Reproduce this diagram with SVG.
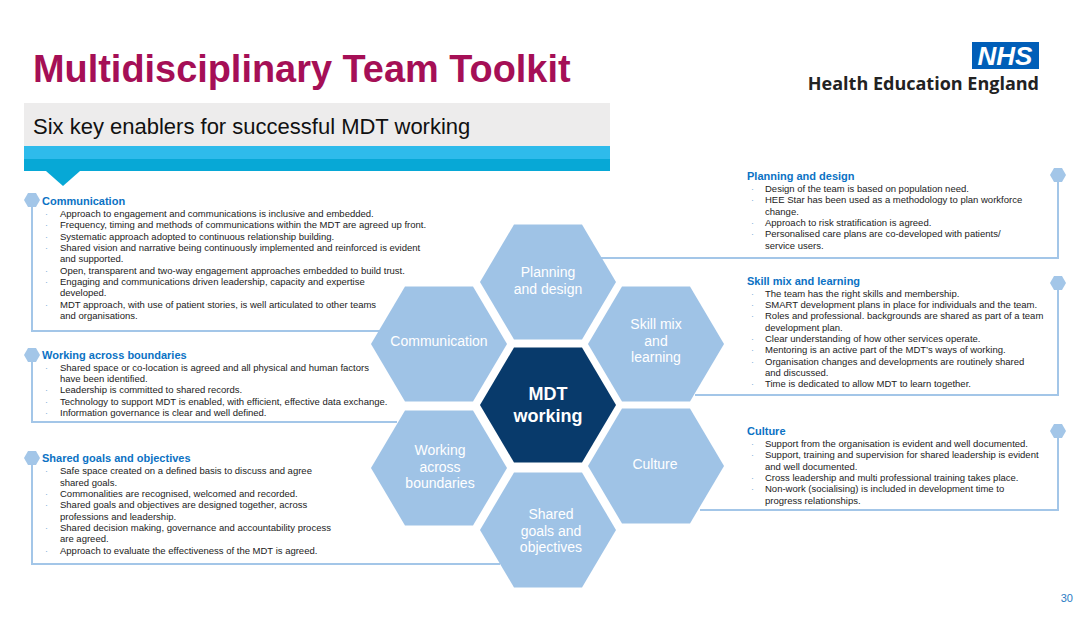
<svg xmlns="http://www.w3.org/2000/svg" width="1091" height="617" viewBox="0 0 1091 617">
<style>
.t{font-family:"Liberation Sans",Arial,sans-serif;font-size:9.5px;fill:#222}
.b{font-family:"Liberation Sans",Arial,sans-serif;font-size:9px;fill:#7fb0d8}
.h{font-family:"Liberation Sans",Arial,sans-serif;font-size:11px;font-weight:bold;fill:#0b72c4}
.hx{fill:#9fc3e6}
.hl{font-family:"Liberation Sans",Arial,sans-serif;font-size:14px;fill:#fff;text-anchor:middle}
.mdt{font-family:"Liberation Sans",Arial,sans-serif;font-size:18px;font-weight:bold;fill:#fff;text-anchor:middle}
.ln{fill:none;stroke:#a3c6e8;stroke-width:2}
.sh{fill:#a3c6e8}
</style>
<defs>
<polygon id="big" points="-68,0 -34,-57.5 34,-57.5 68,0 34,57.5 -34,57.5"/>
<polygon id="sm" points="-8,0 -4,-7 4,-7 8,0 4,7 -4,7"/>
</defs>
<rect width="1091" height="617" fill="#fff"/>
<text x="33" y="82" font-family="Liberation Sans,Arial,sans-serif" font-size="37.9" font-weight="bold" fill="#a50f56">Multidisciplinary Team Toolkit</text>
<rect x="972" y="42" width="67" height="27" fill="#005eb8"/>
<text x="1005" y="65" text-anchor="middle" font-family="Liberation Sans,Arial,sans-serif" font-size="26" font-weight="bold" font-style="italic" fill="#fff">NHS</text>
<text x="1039" y="90" text-anchor="end" font-family="Open Sans,Liberation Sans,sans-serif" font-size="18" font-weight="bold" fill="#222">Health Education England</text>
<rect x="24" y="103" width="586" height="43" fill="#edecec"/>
<text x="33" y="134" font-family="Liberation Sans,Arial,sans-serif" font-size="22" fill="#111">Six key enablers for successful MDT working</text>
<rect x="24" y="146" width="586" height="13" fill="#2ebbeb"/>
<rect x="24" y="159" width="586" height="12" fill="#07a8d6"/>
<polygon points="46,171 80,171 63,186" fill="#07a8d6"/>
<g id="connectors">
<polyline class="ln" points="32,200 32,331 380,331"/>
<polyline class="ln" points="32,355 32,422 397,422"/>
<polyline class="ln" points="32,458 32,564 500,564"/>
<polyline class="ln" points="1058,175 1058,258 600,258"/>
<polyline class="ln" points="1058,283 1058,395 695,395"/>
<polyline class="ln" points="1058,431 1058,510 700,510"/>
<use href="#sm" class="sh" x="32" y="200"/>
<use href="#sm" class="sh" x="32" y="355"/>
<use href="#sm" class="sh" x="32" y="458"/>
<use href="#sm" class="sh" x="1058" y="175"/>
<use href="#sm" class="sh" x="1058" y="283"/>
<use href="#sm" class="sh" x="1058" y="431"/>
</g>
<g id="hex-planning"><use href="#big" class="hx" x="548" y="282"/><text class="hl" x="548" y="277">Planning</text><text class="hl" x="548" y="294">and design</text></g>
<g id="hex-communication"><use href="#big" class="hx" x="439" y="344"/><text class="hl" x="439" y="346">Communication</text></g>
<g id="hex-skill"><use href="#big" class="hx" x="656" y="344"/><text class="hl" x="656" y="329">Skill mix</text><text class="hl" x="656" y="346">and</text><text class="hl" x="656" y="362">learning</text></g>
<g id="hex-mdt"><use href="#big" fill="#083a6b" x="548" y="405"/><text class="mdt" x="548" y="400">MDT</text><text class="mdt" x="548" y="422">working</text></g>
<g id="hex-working"><use href="#big" class="hx" x="439" y="468"/><text class="hl" x="440" y="455">Working</text><text class="hl" x="440" y="472">across</text><text class="hl" x="440" y="488">boundaries</text></g>
<g id="hex-culture"><use href="#big" class="hx" x="656" y="466"/><text class="hl" x="655" y="469">Culture</text></g>
<g id="hex-shared"><use href="#big" class="hx" x="548" y="530"/><text class="hl" x="551" y="519">Shared</text><text class="hl" x="551" y="536">goals and</text><text class="hl" x="551" y="552">objectives</text></g>

<g id="box-communication">
<text class="h" x="42" y="205">Communication</text>
<g class="b"><text x="45" y="217">·</text><text x="45" y="228">·</text><text x="45" y="240">·</text><text x="45" y="251">·</text><text x="45" y="274">·</text><text x="45" y="285">·</text><text x="45" y="308">·</text></g>
<text class="t" x="60" y="217">Approach to engagement and communications is inclusive and embedded.</text>
<text class="t" x="60" y="228">Frequency, timing and methods of communications within the MDT are agreed up front.</text>
<text class="t" x="60" y="240">Systematic approach adopted to continuous relationship building.</text>
<text class="t" x="60" y="251">Shared vision and narrative being continuously implemented and reinforced is evident</text>
<text class="t" x="60" y="262">and supported.</text>
<text class="t" x="60" y="274">Open, transparent and two-way engagement approaches embedded to build trust.</text>
<text class="t" x="60" y="285">Engaging and communications driven leadership, capacity and expertise</text>
<text class="t" x="60" y="296">developed.</text>
<text class="t" x="60" y="308">MDT approach, with use of patient stories, is well articulated to other teams</text>
<text class="t" x="60" y="319">and organisations.</text>
</g>
<g id="box-working">
<text class="h" x="42" y="359">Working across boundaries</text>
<g class="b"><text x="45" y="371">·</text><text x="45" y="393">·</text><text x="45" y="405">·</text><text x="45" y="416">·</text></g>
<text class="t" x="60" y="371">Shared space or co-location is agreed and all physical and human factors</text>
<text class="t" x="60" y="382">have been identified.</text>
<text class="t" x="60" y="393">Leadership is committed to shared records.</text>
<text class="t" x="60" y="405">Technology to support MDT is enabled, with efficient, effective data exchange.</text>
<text class="t" x="60" y="416">Information governance is clear and well defined.</text>
</g>
<g id="box-shared">
<text class="h" x="42" y="462">Shared goals and objectives</text>
<g class="b"><text x="45" y="474">·</text><text x="45" y="497">·</text><text x="45" y="508">·</text><text x="45" y="531">·</text><text x="45" y="554">·</text></g>
<text class="t" x="60" y="474">Safe space created on a defined basis to discuss and agree</text>
<text class="t" x="60" y="486">shared goals.</text>
<text class="t" x="60" y="497">Commonalities are recognised, welcomed and recorded.</text>
<text class="t" x="60" y="508">Shared goals and objectives are designed together, across</text>
<text class="t" x="60" y="520">professions and leadership.</text>
<text class="t" x="60" y="531">Shared decision making, governance and accountability process</text>
<text class="t" x="60" y="542">are agreed.</text>
<text class="t" x="60" y="554">Approach to evaluate the effectiveness of the MDT is agreed.</text>
</g>
<g id="box-planning">
<text class="h" x="747" y="180">Planning and design</text>
<g class="b"><text x="751" y="192">·</text><text x="751" y="203">·</text><text x="751" y="226">·</text><text x="751" y="237">·</text></g>
<text class="t" x="765" y="192">Design of the team is based on population need.</text>
<text class="t" x="765" y="203">HEE Star has been used as a methodology to plan workforce</text>
<text class="t" x="765" y="215">change.</text>
<text class="t" x="765" y="226">Approach to risk stratification is agreed.</text>
<text class="t" x="765" y="237">Personalised care plans are co-developed with patients/</text>
<text class="t" x="765" y="249">service users.</text>
</g>
<g id="box-skill">
<text class="h" x="747" y="285">Skill mix and learning</text>
<g class="b"><text x="751" y="297">·</text><text x="751" y="308">·</text><text x="751" y="319">·</text><text x="751" y="342">·</text><text x="751" y="353">·</text><text x="751" y="365">·</text><text x="751" y="387">·</text></g>
<text class="t" x="765" y="297">The team has the right skills and membership.</text>
<text class="t" x="765" y="308">SMART development plans in place for individuals and the team.</text>
<text class="t" x="765" y="319">Roles and professional. backgrounds are shared as part of a team</text>
<text class="t" x="765" y="331">development plan.</text>
<text class="t" x="765" y="342">Clear understanding of how other services operate.</text>
<text class="t" x="765" y="353">Mentoring is an active part of the MDT’s ways of working.</text>
<text class="t" x="765" y="365">Organisation changes and developments are routinely shared</text>
<text class="t" x="765" y="376">and discussed.</text>
<text class="t" x="765" y="387">Time is dedicated to allow MDT to learn together.</text>
</g>
<g id="box-culture">
<text class="h" x="747" y="435">Culture</text>
<g class="b"><text x="751" y="447">·</text><text x="751" y="458">·</text><text x="751" y="481">·</text><text x="751" y="492">·</text></g>
<text class="t" x="765" y="447">Support from the organisation is evident and well documented.</text>
<text class="t" x="765" y="458">Support, training and supervision for shared leadership is evident</text>
<text class="t" x="765" y="470">and well documented.</text>
<text class="t" x="765" y="481">Cross leadership and multi professional training takes place.</text>
<text class="t" x="765" y="492">Non-work (socialising) is included in development time to</text>
<text class="t" x="765" y="504">progress relationships.</text>
</g>
<text x="1073" y="602" text-anchor="end" font-family="Liberation Sans,Arial,sans-serif" font-size="11" fill="#2b7cc4">30</text>
</svg>
